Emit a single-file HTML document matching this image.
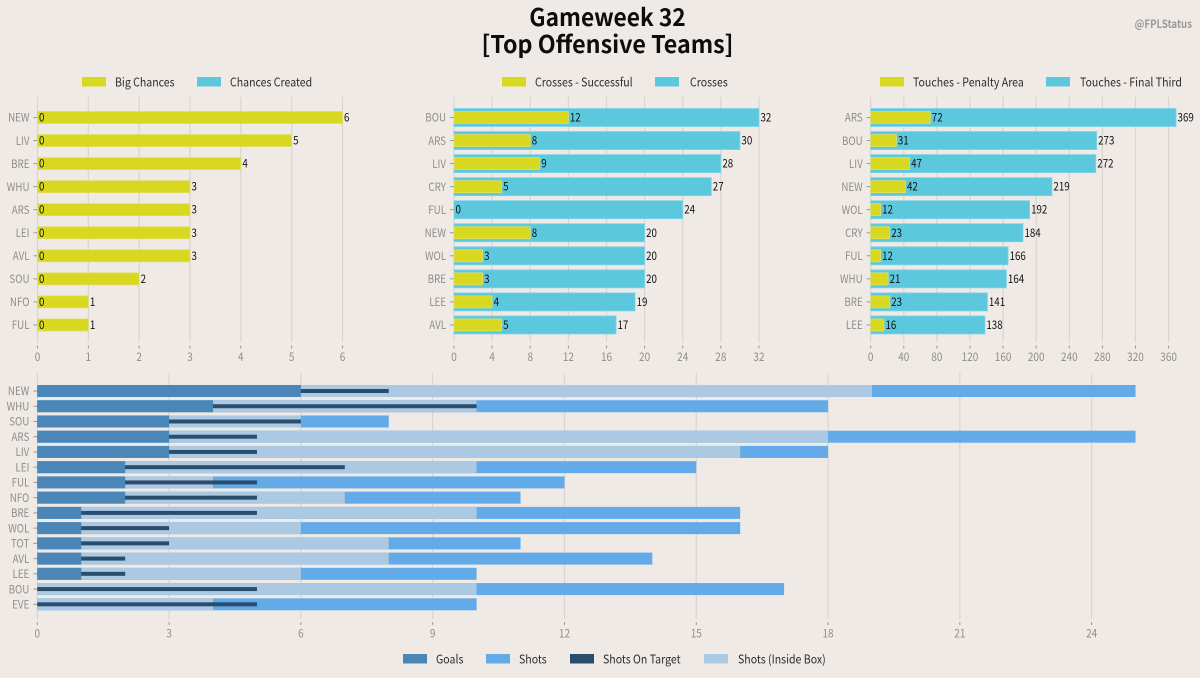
<!DOCTYPE html>
<html lang="en">
<head>
<meta charset="utf-8">
<title>Gameweek 32 - Top Offensive Teams</title>
<style>
html,body{margin:0;padding:0;background:#efeae6;}
svg{display:block;font-family:"Noto Sans CJK JP","Liberation Sans",sans-serif;}
</style>
</head>
<body>
<svg id="figure" xmlns="http://www.w3.org/2000/svg" width="1200" height="678" viewBox="0 0 1200 678">
<rect x="0" y="0" width="1200" height="678" fill="#efeae6"/>
<text transform="translate(607.5 26) scale(0.948 1)" text-anchor="middle" font-size="24" font-weight="700" fill="#0d0d0d">Gameweek 32</text>
<text transform="translate(607.5 53) scale(0.97 1)" text-anchor="middle" font-size="24" font-weight="700" fill="#0d0d0d">[Top Offensive Teams]</text>
<text transform="translate(1192 28) scale(0.88 1)" text-anchor="end" font-size="11" font-weight="700" fill="#9a9795">@FPLStatus</text>
</svg>
<script>
const chancesTeams = ['NEW','LIV','BRE','WHU','ARS','LEI','AVL','SOU','NFO','FUL'];
const bigChances = [6,5,4,3,3,3,3,2,1,1];
const chancesCreated = [0,0,0,0,0,0,0,0,0,0];
const chancesTicks = [0,1,2,3,4,5,6];

const crossesTeams = ['BOU','ARS','LIV','CRY','FUL','NEW','WOL','BRE','LEE','AVL'];
const crossesSuccessful = [12,8,9,5,0,8,3,3,4,5];
const crossesTotal = [32,30,28,27,24,20,20,20,19,17];
const crossesTicks = [0,4,8,12,16,20,24,28,32];

const touchesTeams = ['ARS','BOU','LIV','NEW','WOL','CRY','FUL','WHU','BRE','LEE'];
const touchesPenaltyArea = [72,31,47,42,12,23,12,21,23,16];
const touchesFinalThird = [369,273,272,219,192,184,166,164,141,138];
const touchesTicks = [0,40,80,120,160,200,240,280,320,360];

const shotsTeams = ['NEW','WHU','SOU','ARS','LIV','LEI','FUL','NFO','BRE','WOL','TOT','AVL','LEE','BOU','EVE'];
const goals = [6,4,3,3,3,2,2,2,1,1,1,1,1,0,0];
const shots = [25,18,8,25,18,15,12,11,16,16,11,14,10,17,10];
const shotsOnTarget = [8,10,6,5,5,7,5,5,5,3,3,2,2,5,5];
const shotsInsideBox = [19,10,6,18,16,10,4,7,10,6,8,8,6,10,4];
const shotsTicks = [0,3,6,9,12,15,18,21,24];

const YELLOW = '#d8d820';
const CYAN = '#5bc8de';
const GOALS = '#4a86b8';
const SHOTS = '#62abe8';
const SOT = '#2a4d6c';
const INSIDE = '#acc9e3';
const GRID = '#d9d4d0';
const MUTED = '#8f8c89';
const NS = 'http://www.w3.org/2000/svg';
const fig = document.getElementById('figure');

function make(tag, props, parent) {
  const el = document.createElementNS(NS, tag);
  Object.keys(props).forEach(function (k) { el.setAttribute(k, props[k]); });
  (parent || fig).appendChild(el);
  return el;
}
function label(parent, x, y, str, size, fill, anchor, sx) {
  const el = make('text', {transform: 'translate(' + x + ' ' + y + ') scale(' + sx + ' 1)', 'font-size': size, fill: fill, 'text-anchor': anchor || 'start'}, parent);
  el.textContent = str;
  return el;
}
function slug(s) {
  return s.toLowerCase().replace(/[^a-z0-9]+/g, '-').replace(/-$/, '');
}

function axes(g, opts, xScale, yScale) {
  opts.ticks.forEach(function (t) {
    const x = xScale(t);
    const line = make('line', {x1: x, x2: x, y1: opts.gridTop, y2: opts.gridBottom, stroke: GRID, 'stroke-width': 1.2}, g);
    
    
    const tick = make('line', {x1: x, x2: x, y1: opts.gridBottom + 3, y2: opts.gridBottom + 6, stroke: '#9a9795', 'stroke-width': 1}, g);
    
    
    const text = label(g, x, opts.gridBottom + 18.5, String(t), 11.5, MUTED, 'middle', 0.87);
    
    
  });
  opts.teams.forEach(function (team, i) {
    const y = yScale(i);
    const tick = make('line', {x1: opts.x0 - 4, x2: opts.x0, y1: y, y2: y, stroke: '#9a9795', 'stroke-width': 1}, g);
    
    
    const text = label(g, opts.x0 - 8, y + 4.2, team, 11.5, MUTED, 'end', 0.85);
    
    
  });
}

function bar(g, x0, x1, cy, h, fill, edge) {
  return make('rect', {x: x0, y: cy - h / 2, width: Math.max(0, x1 - x0), height: h, fill: fill, stroke: edge || 'none', 'stroke-width': edge ? 0.8 : 0}, g);
}

function legend(items, y, groupName) {
  const g = make('g', {});
  
  
  items.forEach(function (it) {
    const sw = make('rect', {x: it[0], y: y - 5, width: 24, height: 9.5, fill: it[3]}, g);
    
    
    const t = label(g, it[1], y + 4.5, it[2], 12, '#2c2c2c', 'start', 0.88);
    
    
  });
}

function pairedChart(cfg) {
  const g = make('g', {});
  
  
  const xScale = function (v) { return cfg.x0 + v * cfg.unit; };
  const yScale = function (i) { return 117.5 + i * 23.05; };
  axes(g, {x0: cfg.x0, ticks: cfg.ticks, teams: cfg.teams, gridTop: 97, gridBottom: 342.5}, xScale, yScale);
  cfg.teams.forEach(function (team, i) {
    const y = yScale(i);
    if (cfg.outer[i] > 0) {
      const o = bar(g, cfg.x0, xScale(cfg.outer[i]), y, cfg.outerHeight, CYAN, '#7fd3e5');
      
      
    }
    if (cfg.inner[i] > 0) {
      const n = bar(g, cfg.x0, xScale(cfg.inner[i]), y, 12, YELLOW, '#e0e060');
      
      
    }
    const a = label(g, xScale(cfg.outer[i]) + 1.5, y + 4, String(cfg.outer[i]), 11.5, '#111', 'start', 0.85);
    
    
    const b = label(g, xScale(cfg.inner[i]) + 1.5, y + 4, String(cfg.inner[i]), 11.5, '#111', 'start', 0.85);
    
    
  });
}

pairedChart({name: 'chances-chart', x0: 37.5, unit: 50.83, ticks: chancesTicks, teams: chancesTeams, outer: chancesCreated, inner: bigChances, outerHeight: 18});
pairedChart({name: 'crosses-chart', x0: 454, unit: 9.53, ticks: crossesTicks, teams: crossesTeams, outer: crossesTotal, inner: crossesSuccessful, outerHeight: 18});
pairedChart({name: 'touches-chart', x0: 870.7, unit: 0.8275, ticks: touchesTicks, teams: touchesTeams, outer: touchesFinalThird, inner: touchesPenaltyArea, outerHeight: 18});

(function () {
  const g = make('g', {});
  
  
  const x0 = 37.3;
  const xScale = function (v) { return x0 + v * 43.93; };
  const yScale = function (i) { return 391 + i * 15.236; };
  axes(g, {x0: x0, ticks: shotsTicks, teams: shotsTeams, gridTop: 373, gridBottom: 619}, xScale, yScale);
  shotsTeams.forEach(function (team, i) {
    const y = yScale(i);
    const s = bar(g, x0, xScale(shots[i]), y, 12, SHOTS);
    
    
    const b = bar(g, x0, xScale(shotsInsideBox[i]), y, 12, INSIDE);
    
    
    const t = bar(g, x0, xScale(shotsOnTarget[i]), y, 4, SOT);
    
    
    if (goals[i] > 0) {
      const gl = bar(g, x0, xScale(goals[i]), y, 12, GOALS);
      
      
    }
  });
})();

legend([[82, 115, 'Big Chances', YELLOW], [197, 230, 'Chances Created', CYAN]], 82, 'chances-legend');
legend([[502, 535, 'Crosses - Successful', YELLOW], [655, 690, 'Crosses', CYAN]], 82, 'crosses-legend');
legend([[880, 913, 'Touches - Penalty Area', YELLOW], [1046, 1080, 'Touches - Final Third', CYAN]], 82, 'touches-legend');
legend([[403, 436, 'Goals', GOALS], [486, 519, 'Shots', SHOTS], [570, 603, 'Shots On Target', SOT], [704, 738, 'Shots (Inside Box)', INSIDE]], 659, 'shots-legend');
</script>
</body>
</html>
